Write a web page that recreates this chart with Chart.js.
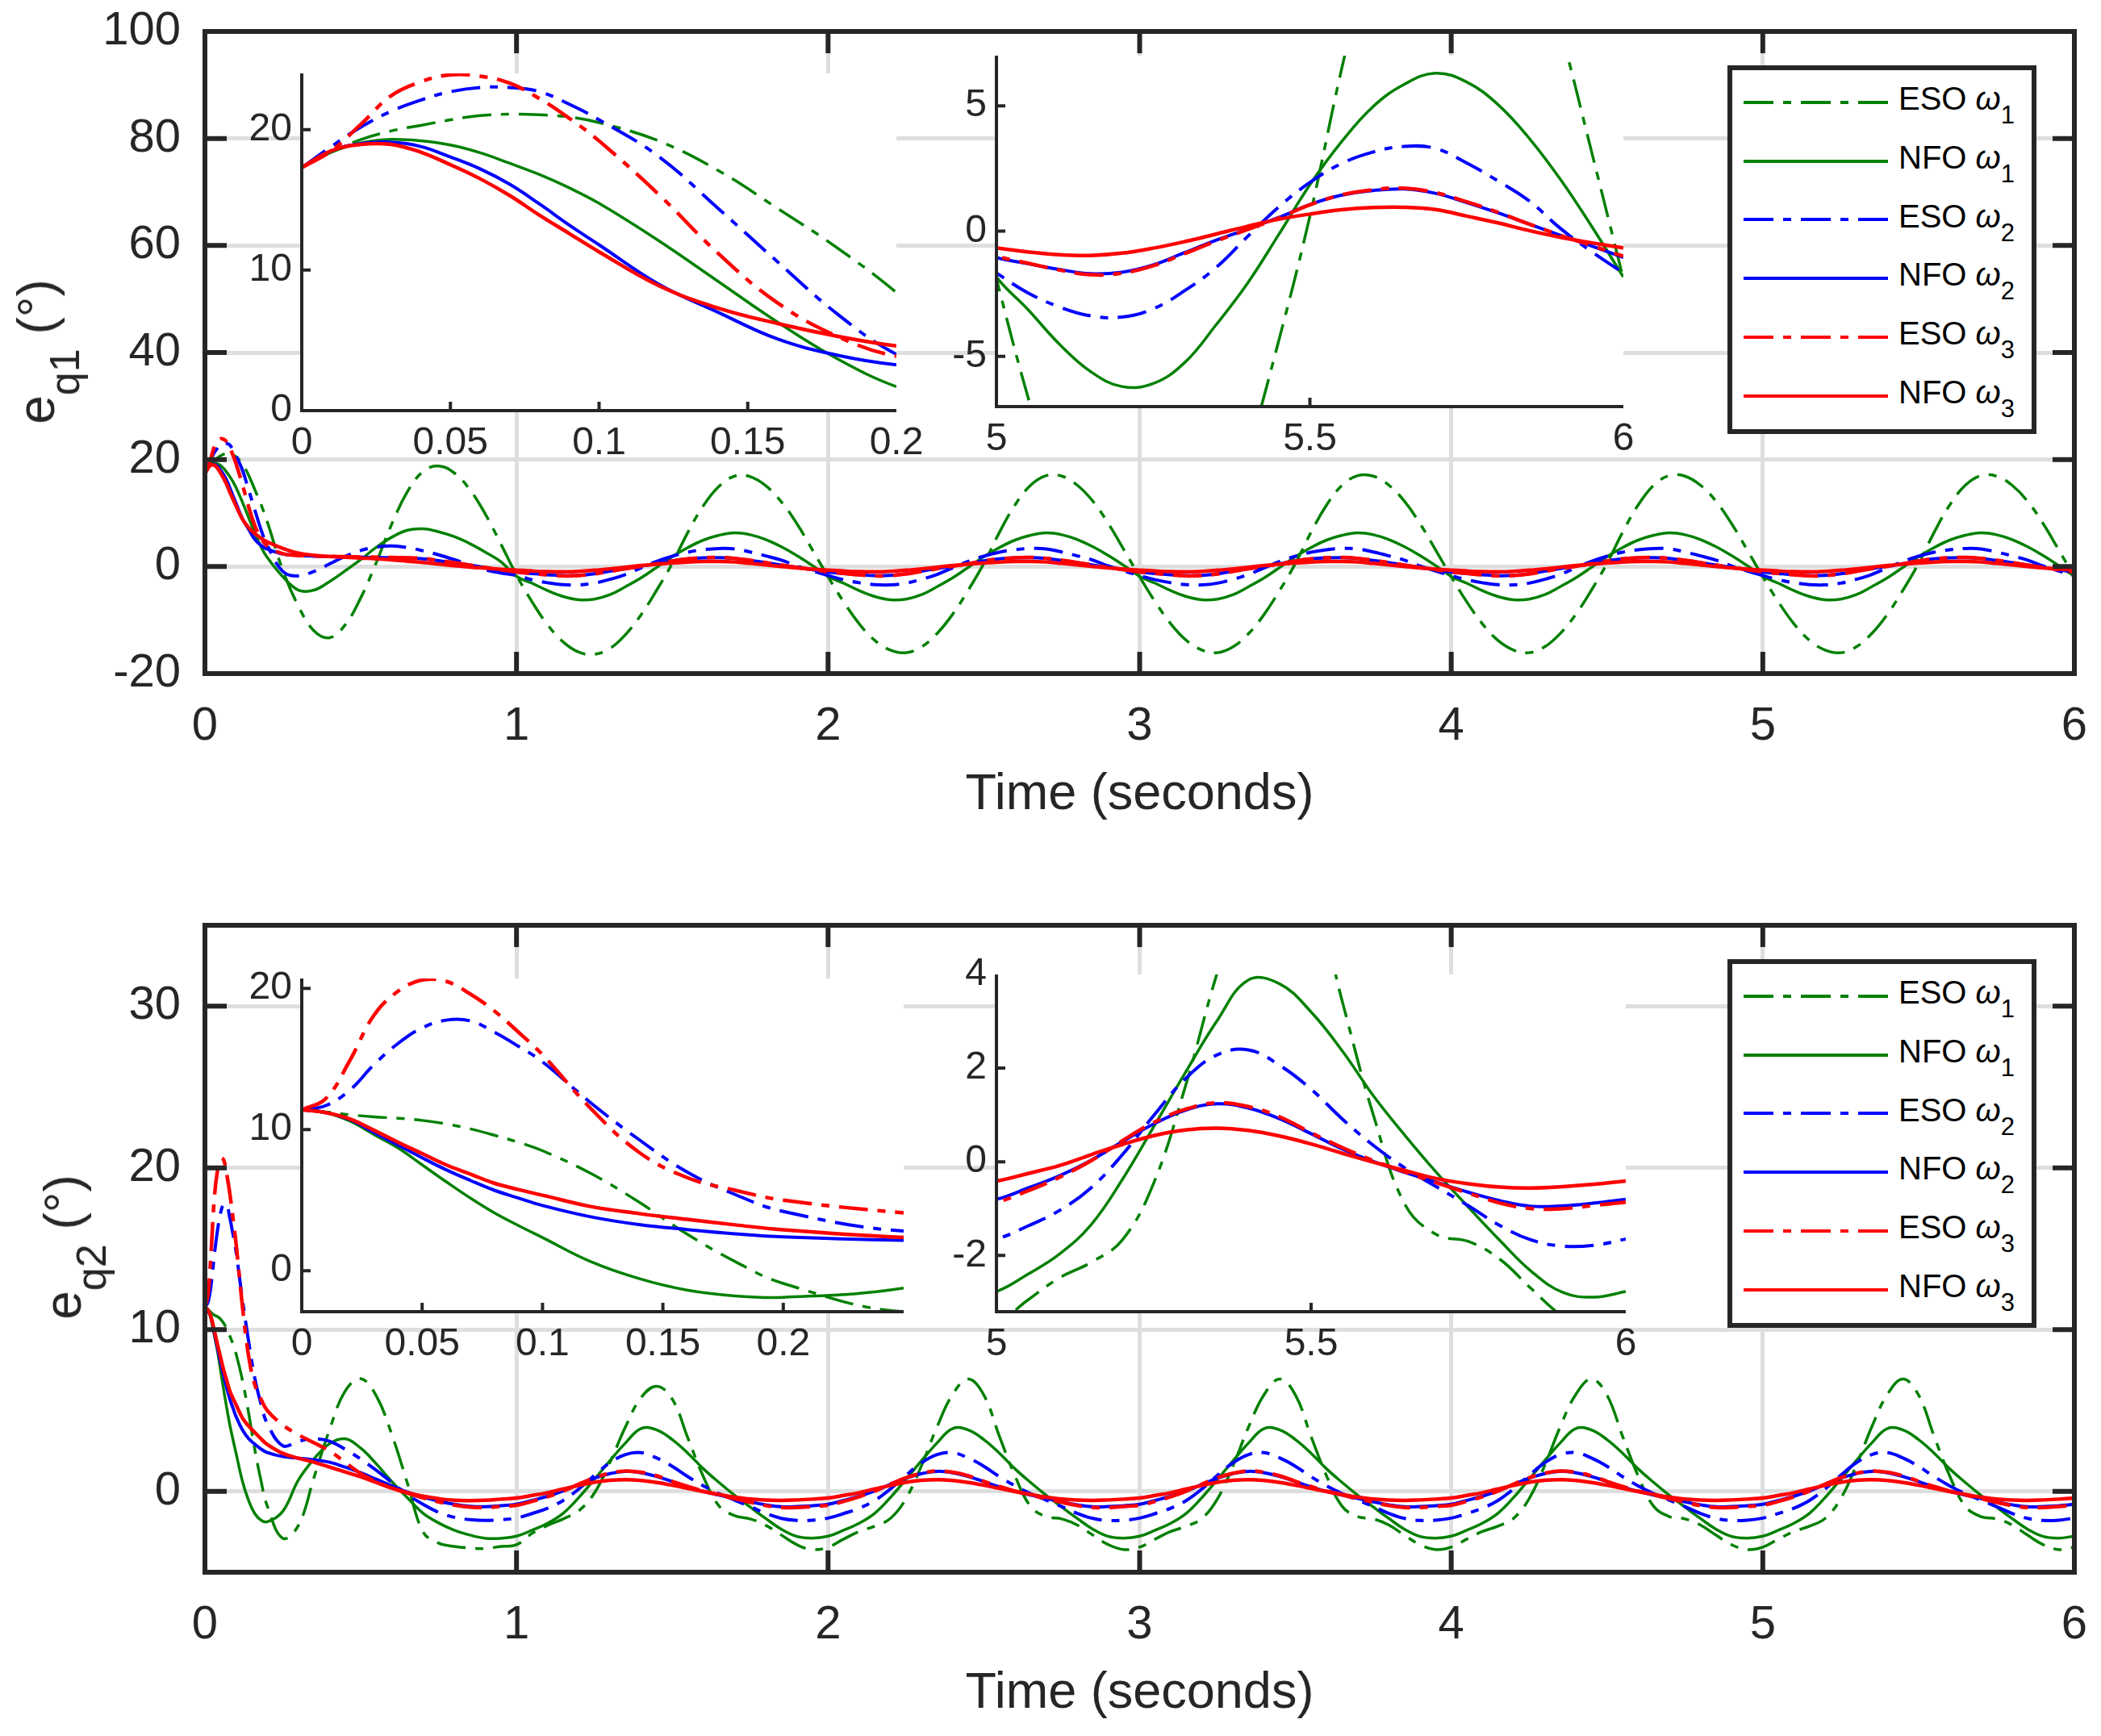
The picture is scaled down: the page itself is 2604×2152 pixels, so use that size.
<!DOCTYPE html>
<html>
<head>
<meta charset="utf-8">
<title>Observer error comparison</title>
<script src="https://cdn.jsdelivr.net/npm/chart.js@4.4.1/dist/chart.umd.min.js"></script>
<style>
  body { margin: 0; background: #fff; width: 2604px; height: 2152px; position: relative; overflow: hidden;
         font-family: "Liberation Sans", Arial, sans-serif; color: #262626; }
  canvas { position: absolute; }
  .ylab { position: absolute; font-size: 64px; line-height: 64px; white-space: nowrap;
          transform: translate(-50%, -50%) rotate(-90deg); }
  .ylab sub { font-size: 52px; line-height: 0; vertical-align: baseline; position: relative; top: 31px; }
  .legend { position: absolute; box-sizing: border-box; width: 383px; height: 457px;
            border: 6px solid #262626; background: #fff; }
  .legend svg { position: absolute; }
  .legend span { position: absolute; font-size: 40px; line-height: 40px; white-space: nowrap; color: #000; }
  .legend i { font-style: italic; }
  .legend sub { font-size: 31px; line-height: 0; vertical-align: baseline; position: relative; top: 17px; }
</style>
</head>
<body>
<canvas id="main1" width="2604" height="1076" style="left:0;top:0"></canvas>
<canvas id="main2" width="2604" height="1082" style="left:0;top:1108px"></canvas>
<canvas id="in1" width="867" height="533" style="left:284px;top:61px"></canvas>
<canvas id="in2" width="907" height="550" style="left:1145px;top:39px"></canvas>
<canvas id="in3" width="876" height="528" style="left:284px;top:1183px"></canvas>
<canvas id="in4" width="910" height="533" style="left:1145px;top:1178px"></canvas>
<div class="ylab" style="left:45px;top:436px">e<sub>q1</sub> (°)</div>
<div class="ylab" style="left:78px;top:1546px">e<sub>q2</sub> (°)</div>

<script>
// time samples (s): dense at the start, then every 0.05 s
const T = [
  0, 0.01, 0.02, 0.03, 0.04, 0.05, 0.06, 0.07, 0.08, 0.09, 0.1, 0.12, 0.14, 0.16, 0.18, 0.2,
  0.25, 0.3, 0.35, 0.4, 0.45, 0.5, 0.55, 0.6, 0.65, 0.7, 0.75, 0.8, 0.85, 0.9, 0.95,
  1, 1.05, 1.1, 1.15, 1.2, 1.25, 1.3, 1.35, 1.4, 1.45, 1.5, 1.55, 1.6, 1.65, 1.7, 1.75, 1.8, 1.85, 1.9, 1.95,
  2, 2.05, 2.1, 2.15, 2.2, 2.25, 2.3, 2.35, 2.4, 2.45, 2.5, 2.55, 2.6, 2.65, 2.7, 2.75, 2.8, 2.85, 2.9, 2.95,
  3, 3.05, 3.1, 3.15, 3.2, 3.25, 3.3, 3.35, 3.4, 3.45, 3.5, 3.55, 3.6, 3.65, 3.7, 3.75, 3.8, 3.85, 3.9, 3.95,
  4, 4.05, 4.1, 4.15, 4.2, 4.25, 4.3, 4.35, 4.4, 4.45, 4.5, 4.55, 4.6, 4.65, 4.7, 4.75, 4.8, 4.85, 4.9, 4.95,
  5, 5.05, 5.1, 5.15, 5.2, 5.25, 5.3, 5.35, 5.4, 5.45, 5.5, 5.55, 5.6, 5.65, 5.7, 5.75, 5.8, 5.85, 5.9, 5.95,
  6
];

// ---- e_q1 (deg) ----
const esoW1Eq1 = [
  17.3, 18.4, 19.3, 19.9, 20.3, 20.7, 21.0, 21.1, 21.06, 20.9, 20.5, 19.2, 17.1, 14.4, 11.6, 8.4,
  -0.7, -7.4, -12.0, -13.3, -10.9, -5.85, 0.75, 8.0, 14.0, 17.75, 18.8, 17.5, 14.4, 9.8, 4.2,
  -1.6, -6.6, -10.9, -14.1, -16.0, -16.4, -15.3, -12.7, -9.0, -4.4, 0.6, 6.4, 11.4, 15.0, 16.9, 16.8, 15.1, 12.1, 8.0, 3.1,
  -1.9, -6.6, -10.7, -13.8, -15.6, -16.1, -15.0, -12.5, -8.9, -4.4, 0.6, 6.4, 11.5, 15.2, 17.0, 16.9, 15.2, 12.2, 8.0, 3.1,
  -1.9, -6.6, -10.7, -13.8, -15.6, -16.1, -15.0, -12.5, -8.9, -4.4, 0.6, 6.4, 11.5, 15.2, 17.0, 16.9, 15.2, 12.2, 8.0, 3.1,
  -1.9, -6.6, -10.7, -13.8, -15.6, -16.1, -15.0, -12.5, -8.9, -4.4, 0.6, 6.4, 11.5, 15.2, 17.0, 16.9, 15.2, 12.2, 8.0, 3.1,
  -1.9, -6.6, -10.7, -13.8, -15.6, -16.1, -15.0, -12.5, -8.9, -4.4, 0.6, 6.4, 11.5, 15.2, 17.0, 16.9, 15.2, 12.2, 8.0, 3.1,
  -1.9
];
const nfoW1Eq1 = [
  17.3, 18.4, 19.05, 19.3, 19.2, 18.9, 18.35, 17.6, 16.8, 15.85, 14.75, 12.1, 9.2, 6.3, 3.7, 1.7,
  -1.9, -4.4, -4.4, -2.8, -0.8, 1.3, 3.6, 5.5, 6.8, 7.05, 6.5, 5.6, 4.3, 2.7, 0.9,
  -1.83, -3.12, -4.5, -5.6, -6.2, -6.08, -5.25, -3.75, -2.1, -0.15, 1.85, 3.55, 4.95, 5.85, 6.3, 5.95, 5.05, 3.7, 2.05, 0.17,
  -1.83, -3.12, -4.5, -5.6, -6.2, -6.08, -5.25, -3.75, -2.1, -0.15, 1.85, 3.55, 4.95, 5.85, 6.3, 5.95, 5.05, 3.7, 2.05, 0.17,
  -1.83, -3.12, -4.5, -5.6, -6.2, -6.08, -5.25, -3.75, -2.1, -0.15, 1.85, 3.55, 4.95, 5.85, 6.3, 5.95, 5.05, 3.7, 2.05, 0.17,
  -1.83, -3.12, -4.5, -5.6, -6.2, -6.08, -5.25, -3.75, -2.1, -0.15, 1.85, 3.55, 4.95, 5.85, 6.3, 5.95, 5.05, 3.7, 2.05, 0.17,
  -1.83, -3.12, -4.5, -5.6, -6.2, -6.08, -5.25, -3.75, -2.1, -0.15, 1.85, 3.55, 4.95, 5.85, 6.3, 5.95, 5.05, 3.7, 2.05, 0.17,
  -1.83
];
const esoW2Eq1 = [
  17.3, 18.8, 20.2, 21.3, 22.1, 22.7, 23.0, 23.0, 22.7, 21.8, 20.7, 18.1, 14.4, 10.6, 6.9, 4.0,
  -0.9, -1.75, -0.9, 0.5, 1.9, 3.0, 3.65, 3.85, 3.55, 2.95, 2.2, 1.3, 0.3, -0.6, -1.2,
  -1.67, -2.46, -3.02, -3.38, -3.43, -3.1, -2.38, -1.46, -0.23, 0.96, 1.94, 2.69, 3.15, 3.38, 3.3, 2.72, 2.0, 1.2, 0.1, -0.83,
  -1.67, -2.46, -3.02, -3.38, -3.43, -3.1, -2.38, -1.46, -0.23, 0.96, 1.94, 2.69, 3.15, 3.38, 3.3, 2.72, 2.0, 1.2, 0.1, -0.83,
  -1.67, -2.46, -3.02, -3.38, -3.43, -3.1, -2.38, -1.46, -0.23, 0.96, 1.94, 2.69, 3.15, 3.38, 3.3, 2.72, 2.0, 1.2, 0.1, -0.83,
  -1.67, -2.46, -3.02, -3.38, -3.43, -3.1, -2.38, -1.46, -0.23, 0.96, 1.94, 2.69, 3.15, 3.38, 3.3, 2.72, 2.0, 1.2, 0.1, -0.83,
  -1.67, -2.46, -3.02, -3.38, -3.43, -3.1, -2.38, -1.46, -0.23, 0.96, 1.94, 2.69, 3.15, 3.38, 3.3, 2.72, 2.0, 1.2, 0.1, -0.83,
  -1.67
];
const nfoW2Eq1 = [
  17.3, 18.5, 19.0, 19.1, 18.8, 18.05, 17.2, 16.1, 14.7, 13.2, 11.8, 9.0, 7.0, 5.1, 3.95, 3.26,
  2.35, 2.1, 1.95, 1.85, 1.8, 1.75, 1.7, 1.65, 1.6, 1.45, 1.1, 0.72, 0.28, -0.2, -0.65,
  -1.05, -1.3, -1.53, -1.7, -1.64, -1.35, -0.86, -0.37, 0.08, 0.54, 1.06, 1.43, 1.62, 1.68, 1.51, 1.14, 0.73, 0.28, -0.17, -0.6,
  -1.05, -1.3, -1.53, -1.7, -1.64, -1.35, -0.86, -0.37, 0.08, 0.54, 1.06, 1.43, 1.62, 1.68, 1.51, 1.14, 0.73, 0.28, -0.17, -0.6,
  -1.05, -1.3, -1.53, -1.7, -1.64, -1.35, -0.86, -0.37, 0.08, 0.54, 1.06, 1.43, 1.62, 1.68, 1.51, 1.14, 0.73, 0.28, -0.17, -0.6,
  -1.05, -1.3, -1.53, -1.7, -1.64, -1.35, -0.86, -0.37, 0.08, 0.54, 1.06, 1.43, 1.62, 1.68, 1.51, 1.14, 0.73, 0.28, -0.17, -0.6,
  -1.05, -1.3, -1.53, -1.7, -1.64, -1.35, -0.86, -0.37, 0.08, 0.54, 1.06, 1.43, 1.62, 1.68, 1.51, 1.14, 0.73, 0.28, -0.17, -0.6,
  -1.05
];
const esoW3Eq1 = [
  17.3, 18.5, 20.4, 22.4, 23.4, 23.9, 23.8, 23.3, 22.2, 20.8, 19.2, 15.4, 11.2, 7.67, 5.3, 3.87,
  2.4, 2.1, 2.0, 1.9, 1.85, 1.8, 1.75, 1.7, 1.65, 1.5, 1.15, 0.75, 0.28, -0.17, -0.58,
  -1.0, -1.28, -1.55, -1.74, -1.68, -1.38, -0.9, -0.4, 0.06, 0.52, 1.05, 1.44, 1.65, 1.71, 1.54, 1.17, 0.75, 0.28, -0.17, -0.58,
  -1.0, -1.28, -1.55, -1.74, -1.68, -1.38, -0.9, -0.4, 0.06, 0.52, 1.05, 1.44, 1.65, 1.71, 1.54, 1.17, 0.75, 0.28, -0.17, -0.58,
  -1.0, -1.28, -1.55, -1.74, -1.68, -1.38, -0.9, -0.4, 0.06, 0.52, 1.05, 1.44, 1.65, 1.71, 1.54, 1.17, 0.75, 0.28, -0.17, -0.58,
  -1.0, -1.28, -1.55, -1.74, -1.68, -1.38, -0.9, -0.4, 0.06, 0.52, 1.05, 1.44, 1.65, 1.71, 1.54, 1.17, 0.75, 0.28, -0.17, -0.58,
  -1.0, -1.28, -1.55, -1.74, -1.68, -1.38, -0.9, -0.4, 0.06, 0.52, 1.05, 1.44, 1.65, 1.71, 1.54, 1.17, 0.75, 0.28, -0.17, -0.58,
  -1.0
];
const nfoW3Eq1 = [
  17.3, 18.5, 18.95, 18.95, 18.4, 17.5, 16.5, 15.3, 13.9, 12.6, 11.3, 8.9, 7.3, 6.2, 5.3, 4.6,
  3.4, 2.5, 2.1, 1.9, 1.75, 1.6, 1.45, 1.25, 1.0, 0.75, 0.45, 0.15, -0.1, -0.3, -0.5,
  -0.67, -0.83, -0.94, -0.97, -0.88, -0.68, -0.42, -0.12, 0.19, 0.47, 0.68, 0.85, 0.94, 0.95, 0.86, 0.6, 0.33, 0.02, -0.25, -0.47,
  -0.67, -0.83, -0.94, -0.97, -0.88, -0.68, -0.42, -0.12, 0.19, 0.47, 0.68, 0.85, 0.94, 0.95, 0.86, 0.6, 0.33, 0.02, -0.25, -0.47,
  -0.67, -0.83, -0.94, -0.97, -0.88, -0.68, -0.42, -0.12, 0.19, 0.47, 0.68, 0.85, 0.94, 0.95, 0.86, 0.6, 0.33, 0.02, -0.25, -0.47,
  -0.67, -0.83, -0.94, -0.97, -0.88, -0.68, -0.42, -0.12, 0.19, 0.47, 0.68, 0.85, 0.94, 0.95, 0.86, 0.6, 0.33, 0.02, -0.25, -0.47,
  -0.67, -0.83, -0.94, -0.97, -0.88, -0.68, -0.42, -0.12, 0.19, 0.47, 0.68, 0.85, 0.94, 0.95, 0.86, 0.6, 0.33, 0.02, -0.25, -0.47,
  -0.67
];

// ---- e_q2 (deg) ----
const esoW1Eq2 = [
  11.4, 11.25, 11.05, 10.9, 10.8, 10.65, 10.4, 10.05, 9.6, 9.1, 8.5, 6.9, 4.87, 2.6, 0.65, -0.9,
  -2.9, -2.1, 0.86, 3.82, 6.2, 6.97, 5.9, 3.5, 0.5, -2.5, -3.2, -3.4, -3.5, -3.53, -3.4,
  -3.3, -2.6, -2.1, -1.7, -1.2, -0.1, 1.8, 4.0, 5.8, 6.5, 5.7, 3.3, 0.9, -0.9, -1.5, -1.7, -2.1, -2.7, -3.3, -3.6,
  -3.45, -2.95, -2.48, -2.15, -1.67, -0.45, 1.6, 4.0, 6.0, 6.94, 5.95, 3.4, 0.95, -0.93, -1.56, -1.7, -2.08, -2.71, -3.3, -3.6,
  -3.45, -2.95, -2.48, -2.15, -1.67, -0.45, 1.6, 4.0, 6.0, 6.94, 5.95, 3.4, 0.95, -0.93, -1.56, -1.7, -2.08, -2.71, -3.3, -3.6,
  -3.45, -2.95, -2.48, -2.15, -1.67, -0.45, 1.6, 4.0, 6.0, 6.94, 5.95, 3.4, 0.95, -0.93, -1.56, -1.7, -2.08, -2.71, -3.3, -3.6,
  -3.45, -2.95, -2.48, -2.15, -1.67, -0.45, 1.6, 4.0, 6.0, 6.94, 5.95, 3.4, 0.95, -0.93, -1.56, -1.7, -2.08, -2.71, -3.3, -3.6,
  -3.45
];
const nfoW1Eq2 = [
  11.4, 11.2, 10.6, 9.65, 8.7, 7.5, 6.3, 5.15, 4.1, 3.2, 2.35, 0.65, -0.55, -1.37, -1.78, -1.88,
  -1.23, 0.7, 2.0, 2.95, 3.25, 2.67, 1.7, 0.6, -0.4, -1.35, -1.95, -2.4, -2.7, -2.9, -2.9,
  -2.77, -2.4, -1.97, -1.35, -0.38, 0.75, 1.9, 3.0, 3.88, 3.8, 3.2, 2.36, 1.39, 0.55, -0.24, -0.97, -1.68, -2.34, -2.79, -2.89,
  -2.77, -2.4, -1.97, -1.35, -0.38, 0.75, 1.9, 3.0, 3.88, 3.8, 3.2, 2.36, 1.39, 0.55, -0.24, -0.97, -1.68, -2.34, -2.79, -2.89,
  -2.77, -2.4, -1.97, -1.35, -0.38, 0.75, 1.9, 3.0, 3.88, 3.8, 3.2, 2.36, 1.39, 0.55, -0.24, -0.97, -1.68, -2.34, -2.79, -2.89,
  -2.77, -2.4, -1.97, -1.35, -0.38, 0.75, 1.9, 3.0, 3.88, 3.8, 3.2, 2.36, 1.39, 0.55, -0.24, -0.97, -1.68, -2.34, -2.79, -2.89,
  -2.77, -2.4, -1.97, -1.35, -0.38, 0.75, 1.9, 3.0, 3.88, 3.8, 3.2, 2.36, 1.39, 0.55, -0.24, -0.97, -1.68, -2.34, -2.79, -2.89,
  -2.77
];
const esoW2Eq2 = [
  11.4, 11.7, 12.8, 14.6, 16.1, 17.2, 17.75, 17.7, 16.9, 15.9, 14.8, 11.9, 9.3, 7.0, 5.4, 4.2,
  2.82, 3.1, 3.25, 3.1, 2.6, 2.0, 1.3, 0.55, -0.2, -0.8, -1.3, -1.6, -1.75, -1.8, -1.75,
  -1.65, -1.37, -1.04, -0.56, 0.15, 0.99, 1.77, 2.28, 2.39, 2.06, 1.55, 0.91, 0.34, -0.14, -0.54, -0.94, -1.36, -1.67, -1.8, -1.78,
  -1.65, -1.37, -1.04, -0.56, 0.15, 0.99, 1.77, 2.28, 2.39, 2.06, 1.55, 0.91, 0.34, -0.14, -0.54, -0.94, -1.36, -1.67, -1.8, -1.78,
  -1.65, -1.37, -1.04, -0.56, 0.15, 0.99, 1.77, 2.28, 2.39, 2.06, 1.55, 0.91, 0.34, -0.14, -0.54, -0.94, -1.36, -1.67, -1.8, -1.78,
  -1.65, -1.37, -1.04, -0.56, 0.15, 0.99, 1.77, 2.28, 2.39, 2.06, 1.55, 0.91, 0.34, -0.14, -0.54, -0.94, -1.36, -1.67, -1.8, -1.78,
  -1.65, -1.37, -1.04, -0.56, 0.15, 0.99, 1.77, 2.28, 2.39, 2.06, 1.55, 0.91, 0.34, -0.14, -0.54, -0.94, -1.36, -1.67, -1.8, -1.78,
  -1.65
];
const nfoW2Eq2 = [
  11.4, 11.2, 10.7, 9.8, 8.9, 8.0, 7.15, 6.4, 5.7, 5.15, 4.62, 3.82, 3.27, 2.92, 2.62, 2.4,
  2.15, 2.05, 1.95, 1.8, 1.5, 1.15, 0.75, 0.35, -0.05, -0.35, -0.6, -0.8, -0.92, -0.95, -0.88,
  -0.8, -0.56, -0.3, 0.03, 0.43, 0.81, 1.1, 1.24, 1.15, 0.92, 0.6, 0.27, 0.0, -0.23, -0.44, -0.65, -0.83, -0.95, -0.94, -0.88,
  -0.8, -0.56, -0.3, 0.03, 0.43, 0.81, 1.1, 1.24, 1.15, 0.92, 0.6, 0.27, 0.0, -0.23, -0.44, -0.65, -0.83, -0.95, -0.94, -0.88,
  -0.8, -0.56, -0.3, 0.03, 0.43, 0.81, 1.1, 1.24, 1.15, 0.92, 0.6, 0.27, 0.0, -0.23, -0.44, -0.65, -0.83, -0.95, -0.94, -0.88,
  -0.8, -0.56, -0.3, 0.03, 0.43, 0.81, 1.1, 1.24, 1.15, 0.92, 0.6, 0.27, 0.0, -0.23, -0.44, -0.65, -0.83, -0.95, -0.94, -0.88,
  -0.8, -0.56, -0.3, 0.03, 0.43, 0.81, 1.1, 1.24, 1.15, 0.92, 0.6, 0.27, 0.0, -0.23, -0.44, -0.65, -0.83, -0.95, -0.94, -0.88,
  -0.8
];
const esoW3Eq2 = [
  11.4, 12.2, 14.9, 18.1, 19.8, 20.6, 20.5, 19.6, 18.4, 16.9, 15.3, 11.5, 8.4, 6.6, 5.7, 5.0,
  4.1, 3.5, 3.0, 2.5, 1.8, 1.1, 0.6, 0.2, -0.1, -0.4, -0.65, -0.85, -0.97, -1.0, -0.93,
  -0.86, -0.62, -0.33, 0.02, 0.45, 0.84, 1.12, 1.26, 1.18, 0.96, 0.62, 0.3, 0.02, -0.22, -0.45, -0.67, -0.88, -1.0, -1.0, -0.93,
  -0.86, -0.62, -0.33, 0.02, 0.45, 0.84, 1.12, 1.26, 1.18, 0.96, 0.62, 0.3, 0.02, -0.22, -0.45, -0.67, -0.88, -1.0, -1.0, -0.93,
  -0.86, -0.62, -0.33, 0.02, 0.45, 0.84, 1.12, 1.26, 1.18, 0.96, 0.62, 0.3, 0.02, -0.22, -0.45, -0.67, -0.88, -1.0, -1.0, -0.93,
  -0.86, -0.62, -0.33, 0.02, 0.45, 0.84, 1.12, 1.26, 1.18, 0.96, 0.62, 0.3, 0.02, -0.22, -0.45, -0.67, -0.88, -1.0, -1.0, -0.93,
  -0.86, -0.62, -0.33, 0.02, 0.45, 0.84, 1.12, 1.26, 1.18, 0.96, 0.62, 0.3, 0.02, -0.22, -0.45, -0.67, -0.88, -1.0, -1.0, -0.93,
  -0.86
];
const nfoW3Eq2 = [
  11.4, 11.2, 10.75, 9.95, 9.1, 8.3, 7.5, 6.85, 6.2, 5.75, 5.35, 4.55, 4.05, 3.64, 3.25, 2.9,
  2.35, 2.05, 1.8, 1.5, 1.2, 0.9, 0.55, 0.2, -0.08, -0.3, -0.45, -0.55, -0.57, -0.55, -0.48,
  -0.41, -0.25, -0.08, 0.15, 0.37, 0.56, 0.68, 0.72, 0.67, 0.55, 0.38, 0.18, -0.01, -0.19, -0.36, -0.47, -0.54, -0.56, -0.53, -0.48,
  -0.41, -0.25, -0.08, 0.15, 0.37, 0.56, 0.68, 0.72, 0.67, 0.55, 0.38, 0.18, -0.01, -0.19, -0.36, -0.47, -0.54, -0.56, -0.53, -0.48,
  -0.41, -0.25, -0.08, 0.15, 0.37, 0.56, 0.68, 0.72, 0.67, 0.55, 0.38, 0.18, -0.01, -0.19, -0.36, -0.47, -0.54, -0.56, -0.53, -0.48,
  -0.41, -0.25, -0.08, 0.15, 0.37, 0.56, 0.68, 0.72, 0.67, 0.55, 0.38, 0.18, -0.01, -0.19, -0.36, -0.47, -0.54, -0.56, -0.53, -0.48,
  -0.41, -0.25, -0.08, 0.15, 0.37, 0.56, 0.68, 0.72, 0.67, 0.55, 0.38, 0.18, -0.01, -0.19, -0.36, -0.47, -0.54, -0.56, -0.53, -0.48,
  -0.41
];

// series labels / ticks
const observers = ['ESO', 'NFO', 'ESO', 'NFO', 'ESO', 'NFO'];
const omegas = ['1', '1', '2', '2', '3', '3'];
const mainXTicks = [0, 1, 2, 3, 4, 5, 6];
const eq1YTicks = [-20, 0, 20, 40, 60, 80, 100];
const eq2YTicks = [0, 10, 20, 30];
const startXTicks = [0, 0.05, 0.1, 0.15, 0.2];
const endXTicks = [5, 5.5, 6];
const in1YTicks = [0, 10, 20];
const in2YTicks = [-5, 0, 5];
const in3YTicks = [0, 10, 20];
const in4YTicks = [-2, 0, 2, 4];

// styles
const colors = ['#008000', '#008000', '#0000ff', '#0000ff', '#ff0000', '#ff0000'];
const dashed = [true, false, true, false, true, false];
const widths = [3.5, 3.5, 4, 4, 4.5, 4.5];
const DASHDOT = [36, 12, 10, 12];
const INK = '#262626';
const GRID = '#dedede';
const FAMILY = '"Liberation Sans", Arial, sans-serif';

function datasets(series) {
  return series.map((vals, i) => ({
    label: observers[i] + ' ω' + omegas[i],
    data: T.map((t, j) => ({ x: t, y: vals[j] })),
    borderColor: colors[i],
    borderWidth: widths[i],
    borderDash: dashed[i] ? DASHDOT : [],
    pointRadius: 0,
    fill: false,
    tension: 0.4,
    order: series.length - i
  }));
}

// MATLAB-like box: axis lines and inward ticks drawn from the chart's own scales
const axesBox = {
  id: 'axesBox',
  beforeDraw(chart, args, o) {
    if (!o.fill) return;
    const { ctx, chartArea: a } = chart;
    ctx.save();
    ctx.fillStyle = '#fff';
    ctx.fillRect(a.left, a.top, a.right - a.left, a.bottom - a.top);
    ctx.restore();
  },
  afterDraw(chart, args, o) {
    const { ctx, chartArea: a, scales: { x, y } } = chart;
    ctx.save();
    ctx.strokeStyle = INK;
    ctx.lineWidth = o.width;
    ctx.beginPath();
    x.ticks.forEach(t => {
      const p = x.getPixelForValue(t.value);
      if (p <= a.left + 1 || p >= a.right - 1) return;
      ctx.moveTo(p, a.bottom); ctx.lineTo(p, a.bottom - o.tick);
      if (o.box) { ctx.moveTo(p, a.top); ctx.lineTo(p, a.top + o.tick); }
    });
    y.ticks.forEach(t => {
      const p = y.getPixelForValue(t.value);
      if (p <= a.top + 1 || p >= a.bottom - 1) return;
      ctx.moveTo(a.left, p); ctx.lineTo(a.left + o.tick, p);
      if (o.box) { ctx.moveTo(a.right, p); ctx.lineTo(a.right - o.tick, p); }
    });
    ctx.stroke();
    ctx.beginPath();
    if (o.box) {
      ctx.rect(a.left, a.top, a.right - a.left, a.bottom - a.top);
    } else {
      ctx.moveTo(a.left, a.top); ctx.lineTo(a.left, a.bottom); ctx.lineTo(a.right, a.bottom);
    }
    ctx.stroke();
    ctx.restore();
  }
};

// fixed axis size, and no extra label padding so the layout padding places the plot box
function fixSize(s, size) {
  if (s.isHorizontal()) s.height = size; else s.width = size;
  s.paddingTop = s.paddingBottom = s.paddingLeft = s.paddingRight = 0;
}

function scaleX(min, max, ticks, opt) {
  return {
    type: 'linear', min: min, max: max,
    afterBuildTicks: s => { s.ticks = ticks.map(v => ({ value: v })); },
    afterFit: s => fixSize(s, opt.h),
    grid: opt.grid ? { color: GRID, lineWidth: 5, drawTicks: false } : { display: false, drawTicks: false },
    border: { display: false },
    ticks: { font: { family: FAMILY, size: opt.font }, color: INK, padding: opt.pad,
             maxRotation: 0, autoSkip: false, callback: v => String(v) },
    title: opt.title ? { display: true, text: opt.title, color: INK,
                         font: { family: FAMILY, size: 63 }, padding: { top: 0, bottom: 53 } } : { display: false }
  };
}

function scaleY(min, max, ticks, opt) {
  return {
    type: 'linear', min: min, max: max,
    afterBuildTicks: s => { s.ticks = ticks.map(v => ({ value: v })); },
    afterFit: s => fixSize(s, opt.w),
    grid: opt.grid ? { color: GRID, lineWidth: 5, drawTicks: false } : { display: false, drawTicks: false },
    border: { display: false },
    ticks: { font: { family: FAMILY, size: opt.font }, color: INK, padding: opt.pad,
             autoSkip: false, callback: v => String(v) }
  };
}

function draw(id, series, x, y, box, padding) {
  return new Chart(document.getElementById(id), {
    type: 'line',
    data: { datasets: datasets(series) },
    options: {
      responsive: false, animation: false, devicePixelRatio: 1, events: [],
      layout: { padding: padding },
      plugins: { legend: { display: false }, tooltip: { enabled: false }, axesBox: box },
      scales: { x: x, y: y }
    },
    plugins: [axesBox]
  });
}

const eq1 = [esoW1Eq1, nfoW1Eq1, esoW2Eq1, nfoW2Eq1, esoW3Eq1, nfoW3Eq1];
const eq2 = [esoW1Eq2, nfoW1Eq2, esoW2Eq2, nfoW2Eq2, esoW3Eq2, nfoW3Eq2];

const mainBox = { box: true, width: 6, tick: 27 };
const insetBox = { box: false, width: 4, tick: 11, fill: true };
const mainPad = { top: 39, right: 33, bottom: 0, left: 0 };
const insetPad = { top: 30, right: 40, bottom: 0, left: 0 };
const mainXOpt = { h: 241, font: 58, pad: 31, grid: true, title: 'Time (seconds)' };
const mainYOpt = { w: 254, font: 58, pad: 30, grid: true };
const inXOpt = { h: 85, font: 48, pad: 12, grid: false };
const inYOpt = { w: 90, font: 48, pad: 12, grid: false };

draw('main1', eq1, scaleX(0, 6, mainXTicks, mainXOpt), scaleY(-20, 100, eq1YTicks, mainYOpt), mainBox, mainPad);
draw('main2', eq2, scaleX(0, 6, mainXTicks, mainXOpt), scaleY(-5, 35, eq2YTicks, mainYOpt), mainBox, mainPad);
draw('in1', eq1, scaleX(0, 0.2, startXTicks, inXOpt), scaleY(0, 24, in1YTicks, inYOpt), insetBox, insetPad);
draw('in2', eq1, scaleX(5, 6, endXTicks, inXOpt), scaleY(-7, 7, in2YTicks, inYOpt), insetBox, insetPad);
draw('in3', eq2, scaleX(0, 0.25, startXTicks, inXOpt), scaleY(-2.9, 20.7, in3YTicks, inYOpt), insetBox, insetPad);
draw('in4', eq2, scaleX(5, 6, endXTicks, inXOpt), scaleY(-3.2, 4, in4YTicks, inYOpt), insetBox, insetPad);

// legends (HTML, built from the same series lists)
function legend(top) {
  const box = document.createElement('div');
  box.className = 'legend';
  box.style.left = '2141px';
  box.style.top = top + 'px';
  observers.forEach((name, i) => {
    const cy = 39.7 + i * 72.8;
    const svgNS = 'http://www.w3.org/2000/svg';
    const svg = document.createElementNS(svgNS, 'svg');
    svg.setAttribute('width', '179');
    svg.setAttribute('height', '10');
    svg.style.left = '14px';
    svg.style.top = (cy - 5) + 'px';
    const ln = document.createElementNS(svgNS, 'line');
    ln.setAttribute('x1', '0'); ln.setAttribute('y1', '5');
    ln.setAttribute('x2', '179'); ln.setAttribute('y2', '5');
    ln.setAttribute('stroke', colors[i]);
    ln.setAttribute('stroke-width', '4');
    if (dashed[i]) ln.setAttribute('stroke-dasharray', '37 12 10 12');
    svg.appendChild(ln);
    box.appendChild(svg);
    const txt = document.createElement('span');
    txt.style.left = '206px';
    txt.style.top = (cy - 24.8) + 'px';
    txt.innerHTML = name + ' <i>ω</i><sub>' + omegas[i] + '</sub>';
    box.appendChild(txt);
  });
  document.body.appendChild(box);
}
legend(81);
legend(1189);
</script>
</body>
</html>
